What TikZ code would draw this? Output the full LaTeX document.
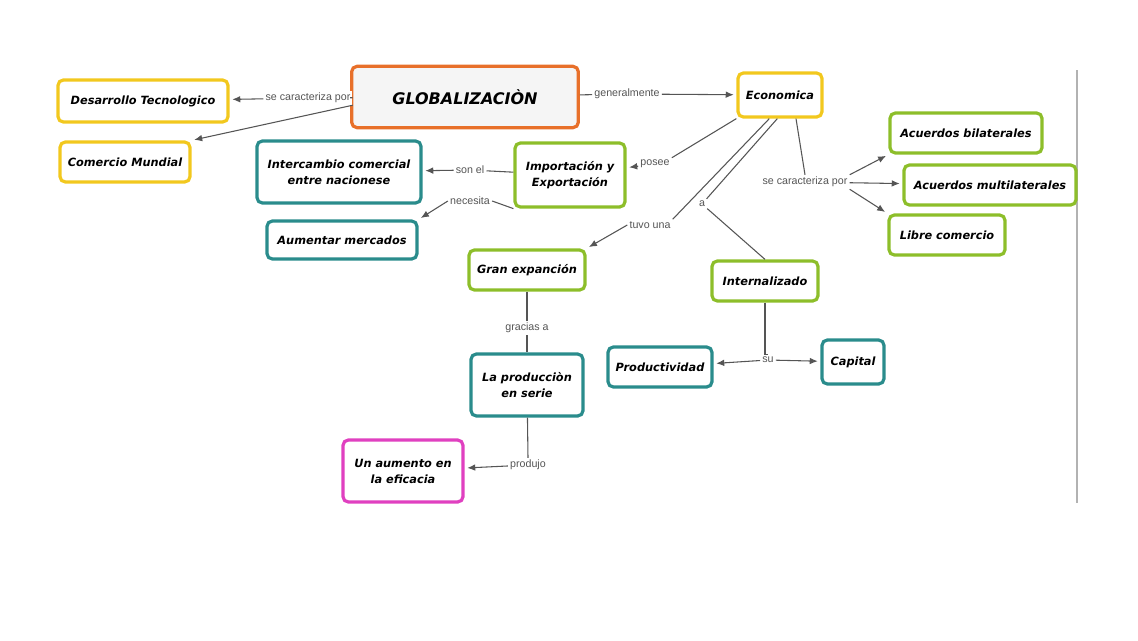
\documentclass[tikz,border=0pt]{standalone}
\usepackage{fontspec}
\setmainfont{DejaVu Sans}
\newfontfamily\lblfont{Liberation Sans}
\usetikzlibrary{arrows.meta}
\definecolor{cyel}{HTML}{F2C81E}
\definecolor{cgrn}{HTML}{8DBE2A}
\definecolor{cteal}{HTML}{2A8C8C}
\definecolor{corg}{HTML}{E8702A}
\definecolor{cmag}{HTML}{E040C0}
\definecolor{clin}{HTML}{555555}
\tikzset{
 x=0.75pt,y=-0.75pt,
 box/.style={draw=#1,line width=2.4pt,rounded corners=4pt,fill=white,align=center,
   font=\fontsize{8.5}{12}\selectfont\bfseries\itshape,inner sep=5pt},
 lbl/.style={font=\lblfont\fontsize{8}{10}\selectfont,text=clin,fill=white,inner sep=1.5pt},
 ln/.style={draw=clin,line width=0.8pt},
 ar/.style={ln,-{Latex[length=6pt,width=5pt]},shorten >=2pt},
}
\begin{document}
\begin{tikzpicture}
\useasboundingbox (0,0) rectangle (1138,640);
\draw[gray!60,line width=1pt] (1077,70) -- (1077,503);
\node[box=corg,fill=gray!8,minimum width=170,minimum height=46,font=\fontsize{12}{14}\selectfont\bfseries\itshape] (glob) at (465,97) {GLOBALIZACIÒN};
\node[box=cyel,minimum width=170*0.75,minimum height=42*0.75] (des) at (143,101) {Desarrollo Tecnologico};
\node[box=cyel,minimum width=130*0.75,minimum height=40*0.75] (com) at (125,162) {Comercio Mundial};
\node[box=cyel,minimum width=84*0.75,minimum height=44*0.75] (eco) at (780,95) {Economica};
\node[box=cteal,minimum width=164*0.75,minimum height=62*0.75] (int) at (339,172) {Intercambio comercial\\entre nacionese};
\node[box=cgrn,minimum width=110*0.75,minimum height=64*0.75] (imp) at (570,175) {Importación y\\Exportación};
\node[box=cteal,minimum width=150*0.75,minimum height=38*0.75] (aum) at (342,240) {Aumentar mercados};
\node[box=cgrn,minimum width=116*0.75,minimum height=40*0.75] (gran) at (527,270) {Gran expanción};
\node[box=cgrn,minimum width=106*0.75,minimum height=40*0.75] (inter) at (765,281) {Internalizado};
\node[box=cgrn,minimum width=152*0.75,minimum height=40*0.75] (bil) at (966,133) {Acuerdos bilaterales};
\node[box=cgrn,minimum width=172*0.75,minimum height=40*0.75] (mul) at (990,185) {Acuerdos multilaterales};
\node[box=cgrn,minimum width=116*0.75,minimum height=40*0.75] (lib) at (947,235) {Libre comercio};
\node[box=cteal,minimum width=112*0.75,minimum height=62*0.75] (prod) at (527,385) {La producciòn\\en serie};
\node[box=cteal,minimum width=104*0.75,minimum height=40*0.75] (pty) at (660,367) {Productividad};
\node[box=cteal,minimum width=62*0.75,minimum height=44*0.75] (cap) at (853,362) {Capital};
\node[box=cmag,minimum width=120*0.75,minimum height=62*0.75] (efi) at (403,471) {Un aumento en\\la eficacia};
% labels
\node[lbl] (l1) at (308,98) {se caracteriza por};
\node[lbl] (l2) at (627,94) {generalmente};
\node[lbl] (l3) at (470,170) {son el};
\node[lbl] (l4) at (470,201) {necesita};
\node[lbl] (l5) at (655,164) {posee};
\node[lbl] (l6) at (650,225) {tuvo una};
\node[lbl] (l7) at (702,204) {a};
\node[lbl] (l8) at (805,182) {se caracteriza por};
\node[lbl] (l9) at (527,328) {gracias a};
\node[lbl] (l10) at (768,360) {su};
\node[lbl] (l11) at (528,465) {produjo};
% connectors
\draw[ln] (glob) -- (l1);
\draw[ar] (l1) -- (des);
\draw[ar] (l1.south east) -- (com.north east);
\draw[ln] (glob) -- (l2); \draw[ar] (l2) -- (eco);
\draw[ln] (eco.south west) -- (l5.north east); \draw[ar] (l5) -- (imp);
\draw[ln] ([xshift=-8]eco.south) -- (l6.north east); \draw[ar] (l6.west) -- (gran.north east);
\draw[ln] ([xshift=-2]eco.south) -- (l7); \draw[ln] (l7) -- (inter.north);
\draw[ln] ([xshift=12]eco.south) -- (l8.north);
\draw[ar] (l8.north east) -- (bil.south west);
\draw[ar] (l8) -- (mul);
\draw[ar] (l8.south east) -- (lib.north west);
\draw[ln] (imp) -- (l3); \draw[ar] (l3) -- (int);
\draw[ln] (imp.south west) -- (l4.east); \draw[ar] (l4.west) -- (aum.north east);
\draw[ln] (gran) -- (l9); \draw[ln] (l9) -- (prod);
\draw[ln] (inter.south) -- (inter.south |- l10.north) -- (l10.north);
\draw[ar] (l10) -- (pty);
\draw[ar] (l10) -- (cap);
\draw[ln] (prod) -- (l11.north); \draw[ar] (l11) -- (efi);
\end{tikzpicture}
\end{document}
